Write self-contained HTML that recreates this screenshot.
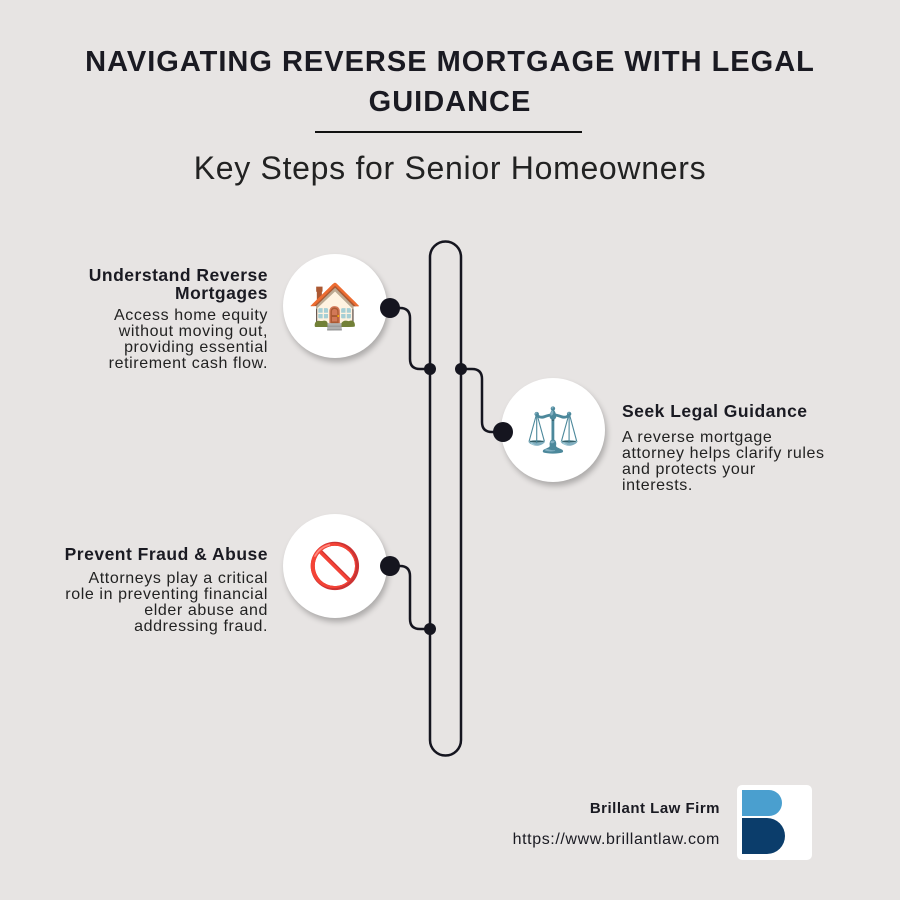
<!DOCTYPE html>
<html><head><meta charset="utf-8"><style>
body{margin:0;width:900px;height:900px;background:#e7e4e3;font-family:"Liberation Sans",sans-serif;position:relative;overflow:hidden;color:#1a1a22}
.t{position:absolute;left:0;width:900px;text-align:center;font-weight:900;font-size:29px;letter-spacing:1px;line-height:40px;top:42px}
.sub{position:absolute;left:0;width:900px;text-align:center;font-size:32px;letter-spacing:0.7px;top:150px;color:#222}
.hr{position:absolute;left:315px;top:131px;width:267px;height:2px;background:#111}
.h{position:absolute;font-weight:bold;font-size:17.5px;letter-spacing:0.5px;line-height:18px}
.p{position:absolute;font-size:16px;letter-spacing:0.6px;line-height:16px;color:#222;white-space:nowrap}
.r{text-align:right}
.c{position:absolute;width:104px;height:104px;border-radius:50%;background:#fff;box-shadow:2px 4px 6px rgba(0,0,0,.25);text-align:center;line-height:104px;font-size:44px;font-family:"Noto Color Emoji","DejaVu Sans",sans-serif}
</style></head><body>
<div class="t">NAVIGATING REVERSE MORTGAGE WITH LEGAL<br>GUIDANCE</div>
<div class="hr"></div>
<div class="sub">Key Steps for Senior Homeowners</div>
<div class="c" style="left:283px;top:254px">🏠</div>
<div class="c" style="left:501px;top:378px">⚖️</div>
<div class="c" style="left:283px;top:514px">🚫</div>
<svg width="900" height="900" style="position:absolute;left:0;top:0">
<g fill="none" stroke="#15151f" stroke-width="2.5">
<path d="M430 257 A15.5 15.5 0 0 1 461 257 V740 A15.5 15.5 0 0 1 430 740 Z"/>
<path d="M390 308 H400 Q410 308 410 318 V359 Q410 369 420 369 H430"/>
<path d="M461 369 H472 Q482 369 482 379 V422 Q482 432 492 432 H503"/>
<path d="M390 566 H400 Q410 566 410 576 V619 Q410 629 420 629 H430"/>
</g>
<g fill="#15151f">
<circle cx="390" cy="308" r="10"/><circle cx="430" cy="369" r="6"/><circle cx="461" cy="369" r="6"/>
<circle cx="503" cy="432" r="10"/><circle cx="390" cy="566" r="10"/><circle cx="430" cy="629" r="6"/>
</g>
</svg>
<div class="h r" style="right:632px;top:266px">Understand Reverse<br>Mortgages</div>
<div class="p r" style="right:632px;top:308px">Access home equity<br>without moving out,<br>providing essential<br>retirement cash flow.</div>
<div class="h" style="left:622px;top:402px">Seek Legal Guidance</div>
<div class="p" style="left:622px;top:430px">A reverse mortgage<br>attorney helps clarify rules<br>and protects your<br>interests.</div>
<div class="h r" style="right:632px;top:545px">Prevent Fraud &amp; Abuse</div>
<div class="p r" style="right:632px;top:571px">Attorneys play a critical<br>role in preventing financial<br>elder abuse and<br>addressing fraud.</div>
<div style="position:absolute;right:180px;top:800px;font-weight:bold;font-size:15px;letter-spacing:0.5px">Brillant Law Firm</div>
<div style="position:absolute;right:180px;top:831px;font-size:16px;letter-spacing:0.6px">https://www.brillantlaw.com</div>
<div style="position:absolute;left:737px;top:785px;width:75px;height:75px;background:#fff;border-radius:5px"></div>
<div style="position:absolute;left:742px;top:790px;width:40px;height:26px;background:#4a9fcf;border-radius:0 14px 14px 0"></div>
<div style="position:absolute;left:742px;top:818px;width:43px;height:36px;background:#0b3d6b;border-radius:0 18px 18px 0"></div>
</body></html>
